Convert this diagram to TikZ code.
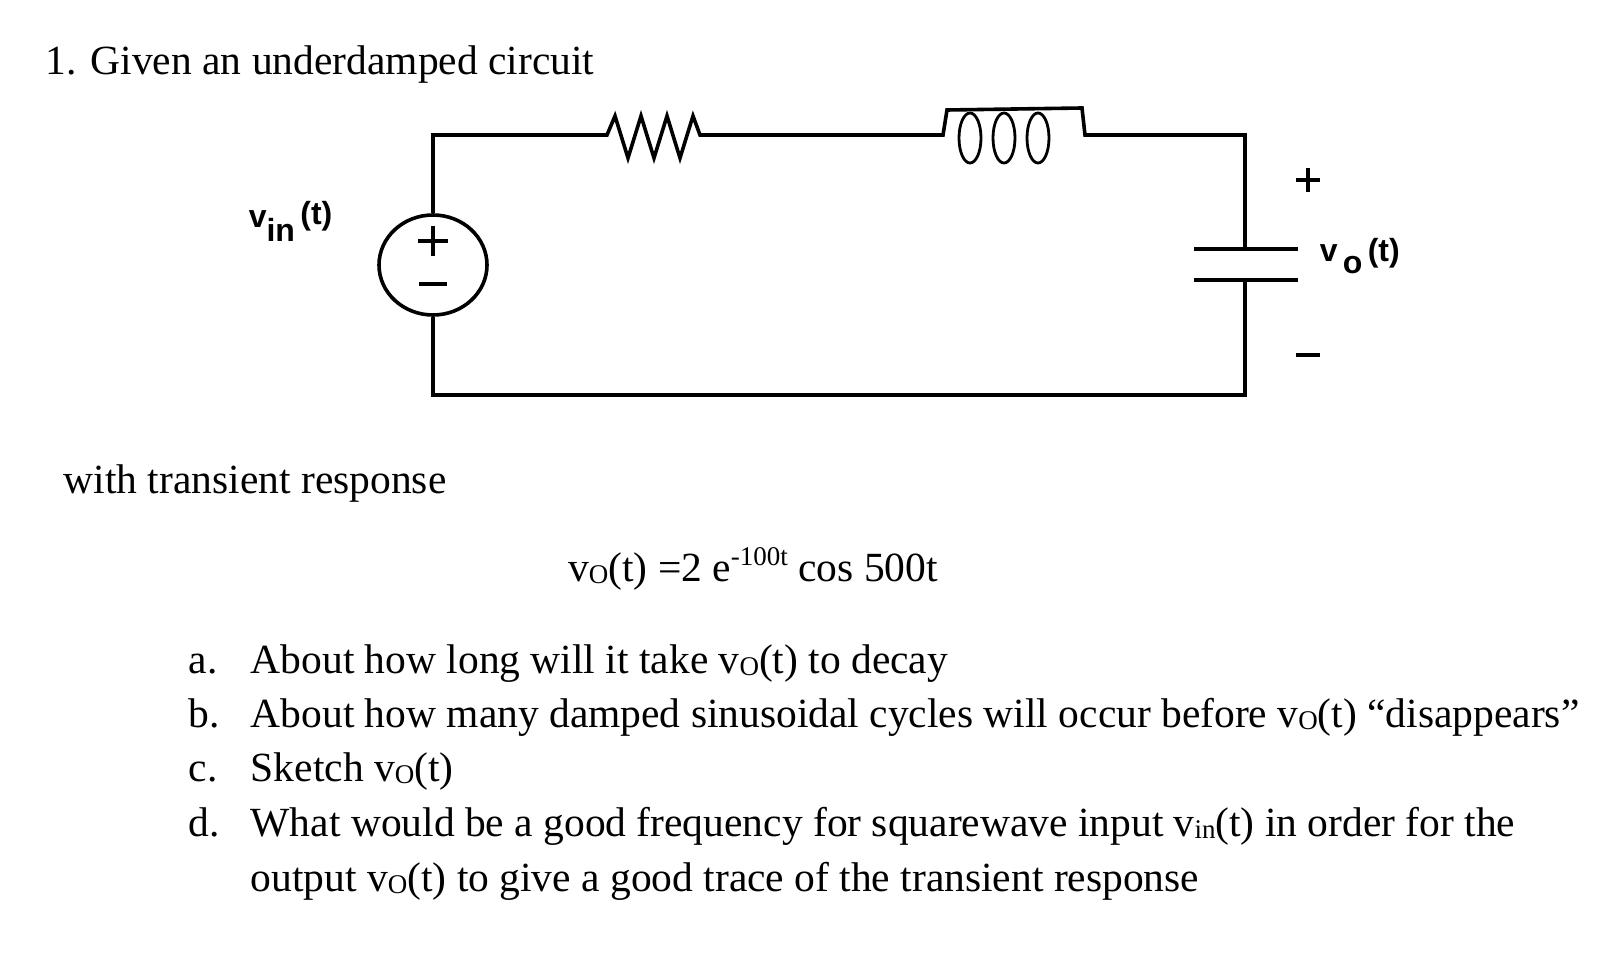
\documentclass[tikz,border=0pt]{standalone}
\usetikzlibrary{shapes.geometric}
\usepackage{fontspec}
\setmainfont{Liberation Serif}
\newfontfamily\cs{Liberation Sans}
\newcommand{\vsub}[1]{v{\fontsize{27}{27}\selectfont\raisebox{-2pt}{#1}}}
\begin{document}
\begin{tikzpicture}[x=1pt,y=-1pt,line width=3.6pt,
  txt/.style={anchor=base west,inner sep=0pt,font=\fontsize{41.5}{41.5}\selectfont},
  lbl/.style={anchor=base west,inner sep=0pt,font=\cs\bfseries\fontsize{32}{32}\selectfont}]
\useasboundingbox (0,0) rectangle (1620,965);
\node[txt] (title) at (44,75) {1. Given an underdamped circuit};
% circuit
\coordinate (tl) at (433,135);
\coordinate (bl) at (433,395);
\coordinate (tr) at (1245,135);
\coordinate (br) at (1245,395);
\node[draw,ellipse,minimum width=108,minimum height=100,inner sep=0] (src) at (433,265) {};
\draw (src.north) -- (tl) -- (607,135) -- (615,116) -- (628,158) -- (641,116) -- (654,158) -- (667,116) -- (680,158) -- (693,116) -- (700,135) -- (943,135)
  -- (947,110) -- (1082,108) -- (1085,135) -- (tr) -- (1245,249);
\foreach \cx in {970,1004,1038}
  \draw[line width=2.8pt] (\cx,138) ellipse (11 and 25);
\draw (1194,249) -- (1298,249);
\draw (1194,280) -- (1298,280);
\draw (1245,280) -- (br) -- (bl) -- (src.south);
\draw[line width=4.5pt] (433,226) -- (433,256) (418,241) -- (448,241);
\draw[line width=4.5pt] (419,284) -- (447,284);
\draw[line width=4pt] (1308,168) -- (1308,192) (1296,180) -- (1320,180);
\draw[line width=4pt] (1296,355) -- (1320,355);
\node[lbl] (vin) at (247,228) {v\raisebox{-14pt}{in}\,\raisebox{3pt}{(t)}};
\node[lbl] (vo) at (1318,262) {v\,\raisebox{-12pt}{o}\,(t)};
% text
\node[txt] (with) at (62,493) {with transient response};
\node[txt,anchor=base] (eq) at (753,581) {\vsub{O}(t) =2 e\raisebox{16pt}{\fontsize{27}{27}\selectfont -100t} cos 500t};
\node[txt] (la) at (187,673) {a.};
\node[txt] (ta) at (249,673) {About how long will it take \vsub{O}(t) to decay};
\node[txt] (lb) at (187,727) {b.};
\node[txt] (tb) at (249,727) {About how many damped sinusoidal cycles will occur before \vsub{O}(t) “disappears”};
\node[txt] (lc) at (187,781) {c.};
\node[txt] (tc) at (249,781) {Sketch \vsub{O}(t)};
\node[txt] (ld) at (187,836) {d.};
\node[txt] (td) at (249,836) {What would be a good frequency for squarewave input v{\fontsize{27}{27}\selectfont\raisebox{-2pt}{in}}(t) in order for the};
\node[txt] (te) at (249,891) {output \vsub{O}(t) to give a good trace of the transient response};
\end{tikzpicture}
\end{document}
